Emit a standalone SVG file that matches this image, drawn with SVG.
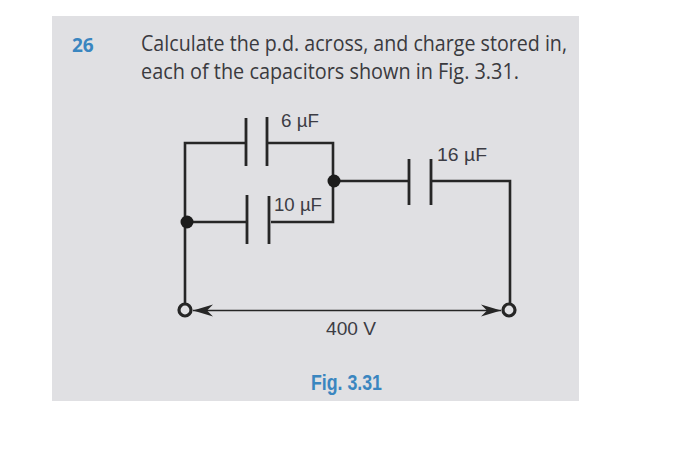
<svg xmlns="http://www.w3.org/2000/svg" width="700" height="464" viewBox="0 0 700 464">
<style>
.w{fill:none;stroke:#262626;stroke-width:2.6;stroke-linejoin:miter}
.p{fill:none;stroke:#262626;stroke-width:2.8}
.t{font-family:"Open Sans","Noto Sans",sans-serif;font-size:21px;fill:#3a3a3e}
.l{font-family:"Liberation Sans",Arial,sans-serif;font-size:17.500px;fill:#3c3c44}
.d{fill:#1c1c1c}
.o{fill:#e0e0e3;stroke:#262626;stroke-width:3.200}
</style>
<defs>
<marker id="a" markerUnits="userSpaceOnUse" markerWidth="22" markerHeight="16" refX="20" refY="8" orient="auto-start-reverse">
<path d="M0 2 L20 8 L0 14 L6 8Z" fill="#262626"/>
</marker>
</defs>
<rect width="700" height="464" fill="#fff"/>
<rect x="52" y="16" width="527" height="385" fill="#e0e0e3"/>
<text id="number" x="72" y="52" font-family="'Open Sans','Noto Sans',sans-serif" font-size="19" font-weight="700" fill="#3a86c0">26</text>
<text id="line1" class="t" x="141" y="51" textLength="426" lengthAdjust="spacingAndGlyphs">Calculate the p.d. across, and charge stored in,</text>
<text id="line2" class="t" x="141" y="79" textLength="378" lengthAdjust="spacingAndGlyphs">each of the capacitors shown in Fig. 3.31.</text>
<g id="connectors">
<path class="w" d="M245 143H185V310"/>
<path class="w" d="M268 143H333V222H271"/>
<path class="w" d="M187 222H247"/>
<path class="w" d="M334 181H409"/>
<path class="w" d="M432 181H510V305"/>
<path fill="none" stroke="#262626" stroke-width="1.4" marker-start="url(#a)" marker-end="url(#a)" d="M193 310.500H501"/>
</g>
<g id="cap-6uF">
<path class="p" d="M246 118V166M267 117V166"/>
<text class="l" x="281" y="127" textLength="38" lengthAdjust="spacingAndGlyphs">6 µF</text>
</g>
<g id="cap-10uF">
<path class="p" d="M247 195V244M269 196V244"/>
<text class="l" x="274" y="211" textLength="48" lengthAdjust="spacingAndGlyphs">10 µF</text>
</g>
<g id="cap-16uF">
<path class="p" d="M409 159V205M431 159V205"/>
<text class="l" x="437" y="161" textLength="50" lengthAdjust="spacingAndGlyphs">16 µF</text>
</g>
<g id="junction-left"><circle class="d" cx="187" cy="222" r="6.500"/></g>
<g id="junction-right"><circle class="d" cx="334" cy="181" r="6.500"/></g>
<g id="terminal-left"><circle class="o" cx="185" cy="310" r="6"/></g>
<g id="terminal-right"><circle class="o" cx="509" cy="310" r="6"/></g>
<text id="voltage" class="l" x="326" y="335" textLength="50" lengthAdjust="spacingAndGlyphs">400 V</text>
<text id="caption" x="311" y="390" textLength="71" lengthAdjust="spacingAndGlyphs" font-family="'Liberation Sans',Arial,sans-serif" font-size="22" font-weight="700" fill="#3a86c0">Fig. 3.31</text>
</svg>
